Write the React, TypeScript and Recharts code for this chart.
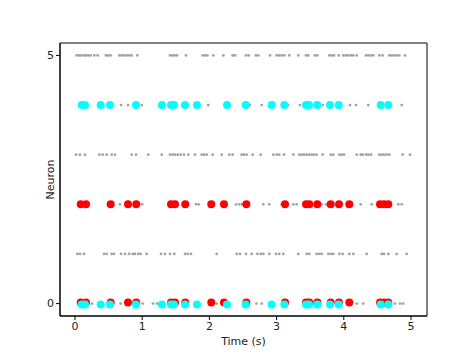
import { ScatterChart, Scatter, XAxis, YAxis, ReferenceArea } from 'recharts';

// spike times (s) per neuron row, read from the raster
const row5 = [0.025, 0.06, 0.094, 0.134, 0.164, 0.198, 0.233, 0.288, 0.337, 0.461, 0.496, 0.531, 0.66, 0.694, 0.729, 0.769, 0.808, 0.843, 0.928, 1.414, 1.449, 1.483, 1.518, 1.652, 1.9, 1.935, 1.97, 2.059, 2.208, 2.346, 2.381, 2.545, 2.585, 2.693, 2.728, 2.902, 3.001, 3.04, 3.076, 3.115, 3.189, 3.323, 3.438, 3.472, 3.571, 3.606, 3.784, 3.82, 3.854, 3.924, 3.993, 4.033, 4.067, 4.107, 4.14, 4.192, 4.33, 4.365, 4.4, 4.439, 4.528, 4.578, 4.677, 4.713, 4.751, 4.787, 4.826, 4.911];
const row4 = [0.685, 0.789, 0.993, 1.984, 2.6, 2.778, 3.174, 3.348, 3.686, 4.092, 4.182, 4.365, 4.862];
const row3 = [0.015, 0.074, 0.149, 0.362, 0.412, 0.471, 0.546, 0.595, 0.843, 0.908, 1.091, 1.29, 1.414, 1.453, 1.488, 1.528, 1.572, 1.622, 1.687, 1.786, 1.885, 1.92, 1.96, 2.049, 2.183, 2.297, 2.347, 2.48, 2.515, 2.555, 2.644, 2.763, 2.951, 3.001, 3.04, 3.11, 3.249, 3.338, 3.373, 3.408, 3.447, 3.487, 3.522, 3.557, 3.596, 3.686, 3.805, 3.844, 3.934, 3.969, 4.003, 4.192, 4.251, 4.281, 4.33, 4.365, 4.405, 4.529, 4.564, 4.598, 4.638, 4.678, 4.876, 4.985];
const row2 = [0.67, 1.0, 1.394, 1.8, 1.84, 2.396, 2.445, 2.485, 2.5, 2.802, 2.891, 3.076, 3.249, 3.299, 3.671, 3.735, 4.251, 4.415, 4.811, 4.862];
const row1 = [0.035, 0.074, 0.134, 0.432, 0.471, 0.546, 0.58, 0.685, 0.744, 0.804, 0.858, 0.893, 0.943, 0.977, 1.066, 1.28, 1.339, 1.414, 1.478, 1.637, 1.677, 1.726, 2.108, 2.406, 2.455, 2.545, 2.629, 2.713, 2.763, 2.802, 2.892, 2.991, 3.04, 3.1, 3.323, 3.447, 3.487, 3.596, 3.636, 3.671, 3.77, 3.805, 3.844, 3.934, 3.983, 4.082, 4.142, 4.34, 4.564, 4.598, 4.663, 4.787, 4.936];
const row0 = [0.253, 0.68, 1.007, 1.16, 1.22, 1.254, 2.109, 2.183, 2.7, 2.78, 4.192, 4.29, 4.762, 4.836, 4.881];

// highlighted spikes: cyan = neuron 4, red = neuron 2 (both repeated on row 0)
const cyanTimes = [0.1, 0.149, 0.382, 0.521, 0.908, 1.295, 1.429, 1.473, 1.637, 1.815, 2.262, 2.54, 2.927, 3.115, 3.438, 3.482, 3.606, 3.795, 3.924, 4.549, 4.662];
const redTimes = [0.085, 0.164, 0.531, 0.789, 0.912, 1.429, 1.488, 1.641, 2.028, 2.217, 2.55, 3.125, 3.438, 3.487, 3.606, 3.805, 3.929, 4.082, 4.539, 4.598, 4.662];

const yTicks = [0, 5];
const xTicks = [0, 1, 2, 3, 4, 5];

const X_DOMAIN: [number, number] = [-0.223, 5.238];
const Y_DOMAIN: [number, number] = [-0.25, 5.25];

const toPoints = (times: number[], n: number) => times.map((t) => ({ t, n }));

const grayData = [
  ...toPoints(row0, 0),
  ...toPoints(row1, 1),
  ...toPoints(row2, 2),
  ...toPoints(row3, 3),
  ...toPoints(row4, 4),
  ...toPoints(row5, 5),
];
const redData = [...toPoints(redTimes, 2), ...toPoints(redTimes, 0.02)];
const cyanData = [...toPoints(cyanTimes, 4), ...toPoints(cyanTimes, -0.02)];

const dot = (r: number, fill: string) => (props: any) => (
  <circle cx={props.cx} cy={props.cy} r={r} fill={fill} />
);

const font = { fontSize: 11, fill: '#222', fontFamily: 'DejaVu Sans' };

export default function App() {
  return (
    <div style={{ position: 'absolute', left: 0, top: 0, background: '#fff' }}>
      <ScatterChart width={474} height={355} margin={{ top: 43, right: 47, left: 0, bottom: 0 }}>
        <XAxis
          type="number"
          dataKey="t"
          domain={X_DOMAIN}
          ticks={xTicks}
          height={39}
          tickSize={4}
          tick={font}
          stroke="#000"
          allowDataOverflow
          label={{ value: 'Time (s)', position: 'center', dy: 6, style: font }}
        />
        <YAxis
          type="number"
          dataKey="n"
          domain={Y_DOMAIN}
          ticks={yTicks}
          width={60}
          tickSize={4}
          tick={font}
          stroke="#000"
          allowDataOverflow
          label={{ value: 'Neuron', angle: -90, position: 'center', dx: 20, style: font }}
        />
        <ReferenceArea
          x1={X_DOMAIN[0]}
          x2={X_DOMAIN[1]}
          y1={Y_DOMAIN[0]}
          y2={Y_DOMAIN[1]}
          fill="none"
          stroke="#000"
          strokeWidth={1}
        />
        <Scatter data={grayData} shape={dot(1.4, '#a3a3a3')} isAnimationActive={false} />
        <Scatter data={redData} shape={dot(4, '#ff0000')} isAnimationActive={false} />
        <Scatter data={cyanData} shape={dot(4, '#00ffff')} isAnimationActive={false} />
      </ScatterChart>
    </div>
  );
}
